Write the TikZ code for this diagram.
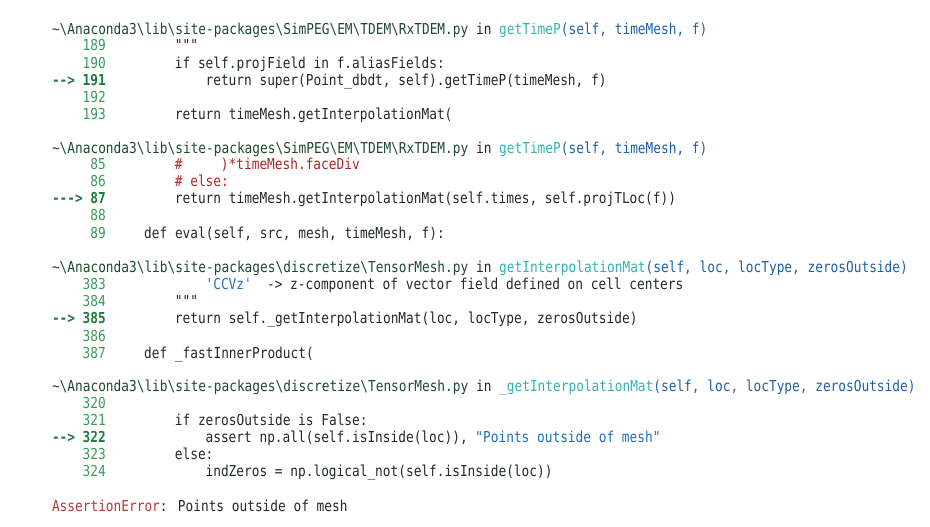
\documentclass[tikz,border=0pt]{standalone}
\usepackage{fontspec}
\newfontfamily\code{DejaVu Sans Mono}[FakeStretch=0.85]
\definecolor{hdr}{HTML}{1F4A30}
\definecolor{fn}{HTML}{35B3B3}
\definecolor{args}{HTML}{1F5FA8}
\definecolor{num}{HTML}{3C9A5C}
\definecolor{arr}{HTML}{1E7A3C}
\definecolor{txt}{HTML}{222A2A}
\definecolor{cmt}{HTML}{B02525}
\definecolor{str}{HTML}{1F6FBF}
\definecolor{err}{HTML}{B03A3A}
\tikzset{cl/.style={anchor=base west,inner sep=0,outer sep=0,font=\code\fontsize{11.3pt}{12pt}\selectfont,text=txt}}
\newcommand\cl[3]{\node[cl] at ({52+7.68*#1},{#2+4.5}) {#3};}
\newcommand\hd[3]{\cl{0}{#1}{\color{hdr}\textasciitilde\textbackslash Anaconda3\textbackslash lib\textbackslash site-packages\textbackslash #2 {\color{txt}in} {\color{fn}#3}}}
\newcommand\nm[3]{\cl{#1}{#2}{\color{num}#3}}
\newcommand\ar[4]{\cl{0}{#1}{\color{arr}\bfseries #2}\cl{#3}{#1}{\color{arr}\bfseries #4}}
\begin{document}
\begin{tikzpicture}[x=0.75pt,y=-0.75pt]
\useasboundingbox (0,0) rectangle (930,527);
\fill[white] (0,0) rectangle (930,527);
% block 1
\hd{30}{SimPEG\textbackslash EM\textbackslash TDEM\textbackslash RxTDEM.py}{getTimeP{\color{args}(self, timeMesh, f)}}
\nm{4}{46}{189}\cl{16}{46}{"""}
\nm{4}{64}{190}\cl{16}{64}{if self.projField in f.aliasFields:}
\ar{81}{-->}{4}{191}\cl{20}{81}{return super(Point\_dbdt, self).getTimeP(timeMesh, f)}
\nm{4}{98}{192}
\nm{4}{115}{193}\cl{16}{115}{return timeMesh.getInterpolationMat(}
% block 2
\hd{149}{SimPEG\textbackslash EM\textbackslash TDEM\textbackslash RxTDEM.py}{getTimeP{\color{args}(self, timeMesh, f)}}
\nm{5}{165}{85}\cl{16}{165}{\color{cmt}\#}\cl{22}{165}{\color{cmt})*timeMesh.faceDiv}
\nm{5}{182}{86}\cl{16}{182}{\color{cmt}\# else:}
\ar{199}{--->}{5}{87}\cl{16}{199}{return timeMesh.getInterpolationMat(self.times, self.projTLoc(f))}
\nm{5}{216}{88}
\nm{5}{234}{89}\cl{12}{234}{def eval(self, src, mesh, timeMesh, f):}
% block 3
\hd{268}{discretize\textbackslash TensorMesh.py}{getInterpolationMat{\color{args}(self, loc, locType, zerosOutside)}}
\nm{4}{285}{383}\cl{20}{285}{\color{str}'CCVz'}\cl{28}{285}{-> z-component of vector field defined on cell centers}
\nm{4}{302}{384}\cl{16}{302}{"""}
\ar{319}{-->}{4}{385}\cl{16}{319}{return self.\_getInterpolationMat(loc, locType, zerosOutside)}
\nm{4}{337}{386}
\nm{4}{354}{387}\cl{12}{354}{def \_fastInnerProduct(}
% block 4
\hd{387}{discretize\textbackslash TensorMesh.py}{\_getInterpolationMat{\color{args}(self, loc, locType, zerosOutside)}}
\nm{4}{404}{320}
\nm{4}{421}{321}\cl{16}{421}{if zerosOutside is False:}
\ar{438}{-->}{4}{322}\cl{20}{438}{assert np.all(self.isInside(loc)), {\color{str}"Points outside of mesh"}}
\nm{4}{455}{323}\cl{16}{455}{else:}
\nm{4}{472}{324}\cl{20}{472}{indZeros = np.logical\_not(self.isInside(loc))}
% error
\cl{0}{507}{{\color{err}AssertionError}: Points outside of mesh}
\end{tikzpicture}
\end{document}
